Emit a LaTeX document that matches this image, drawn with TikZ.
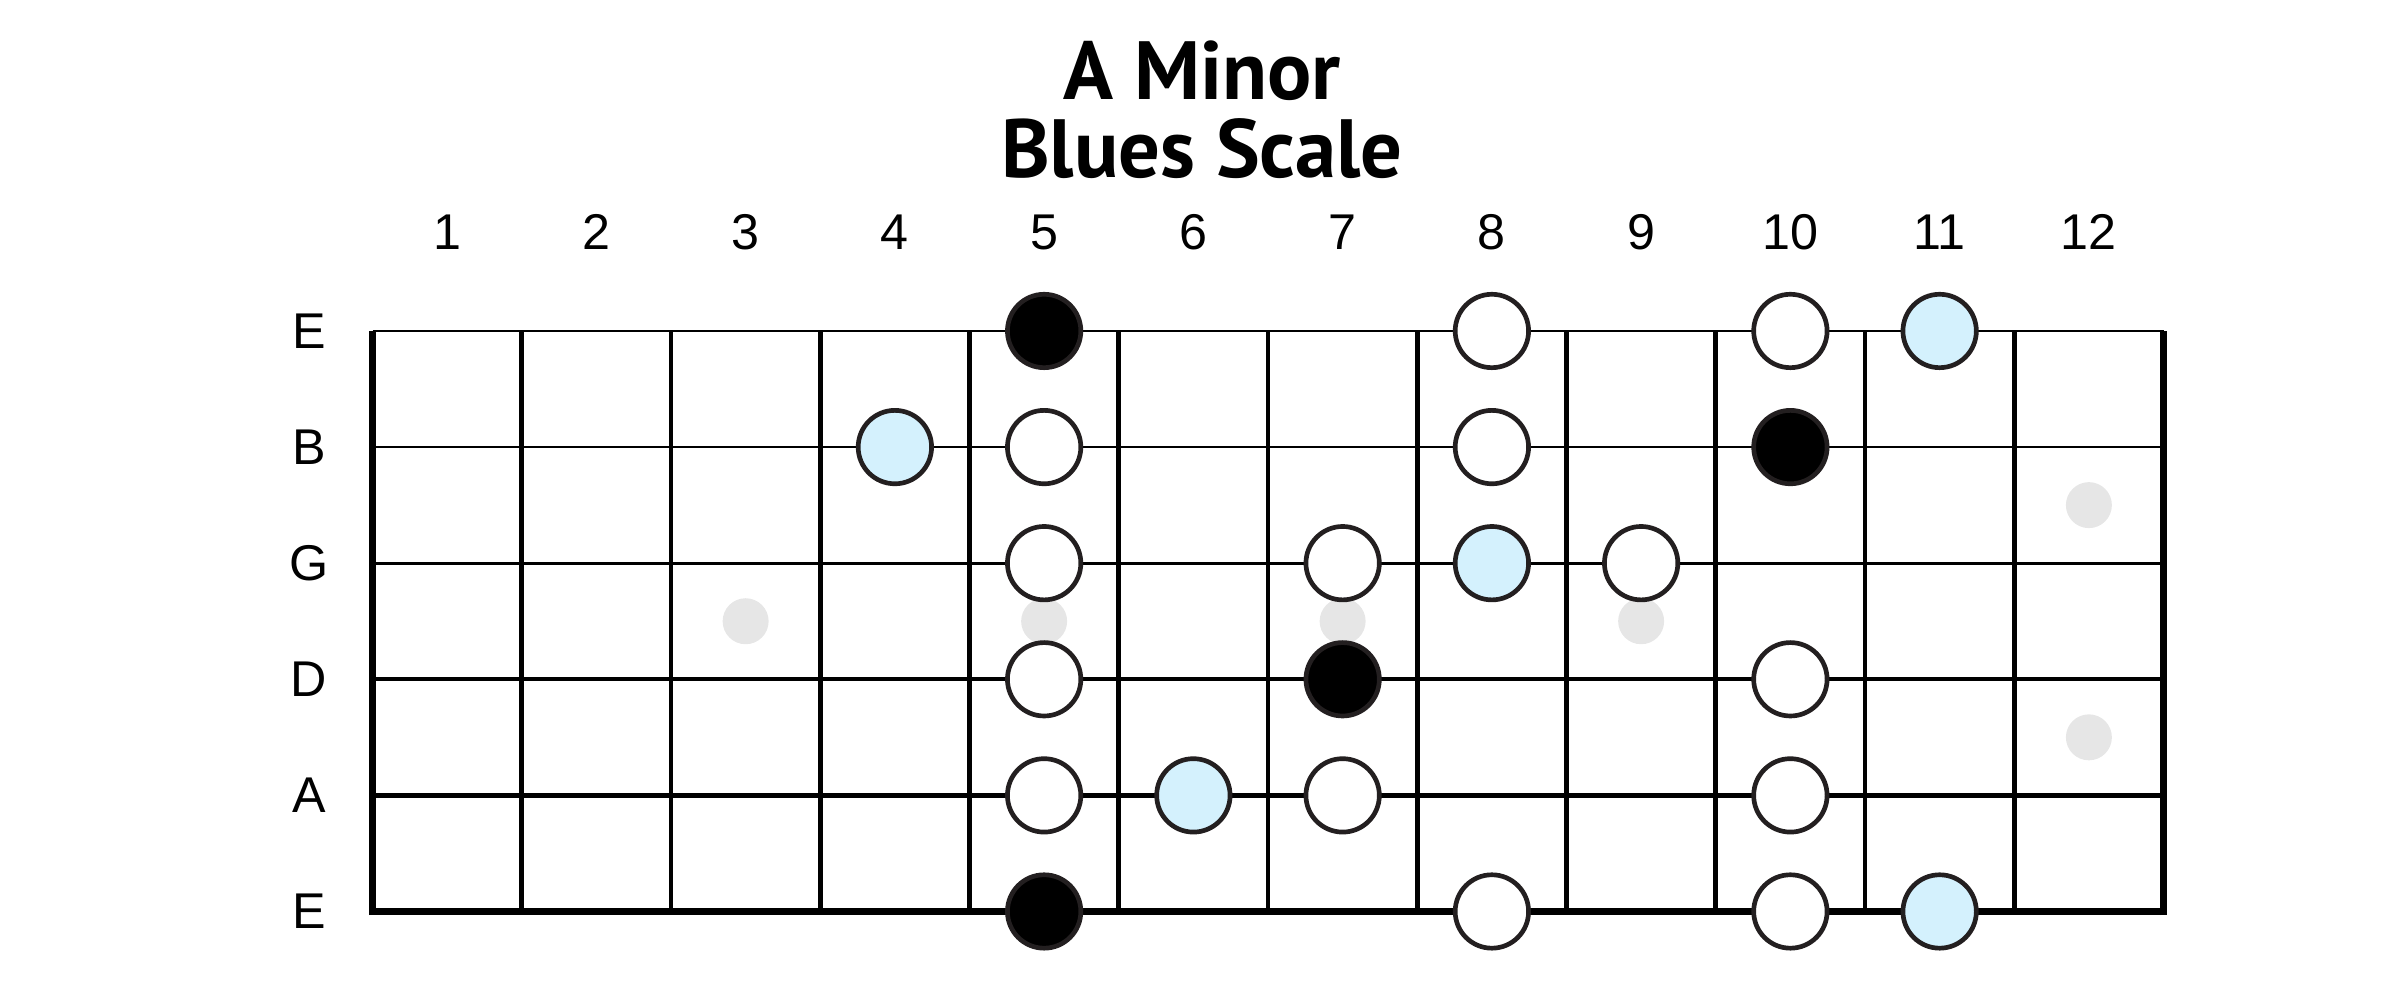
\documentclass[tikz,border=0pt]{standalone}
\usepackage{fontspec}
\setmainfont{Liberation Sans}
\newfontfamily\titlefont{PT Sans}
\usetikzlibrary{calc}

\definecolor{inkblack}{HTML}{231F20}
\definecolor{bluenote}{HTML}{D4F1FD}
\definecolor{inlaygrey}{HTML}{E6E6E6}

\tikzset{
	note/.style={draw=inkblack, line width=1.33pt},
	inlay/.style={fill=inlaygrey},
	fretline/.style={line width=1.3pt},
	endline/.style={line width=2pt},
	fretnum/.style={anchor=base, inner sep=0pt, font=\fontsize{14.3}{17}\selectfont},
	strname/.style={inner sep=0pt, font=\fontsize{14.3}{17}\selectfont},
	titletext/.style={anchor=base, inner sep=0pt, font=\titlefont\bfseries\fontsize{23.5}{26}\selectfont}
}

\begin{document}
\begin{tikzpicture}[x=1.4925cm, y=1.161cm]
		\useasboundingbox (-3.725cm,-0.885cm) rectangle (20.275cm,9.115cm);
		
		% Title
		\node[titletext] (title1) at (5.558,6.99) {A Minor};
		\node[titletext] (title2) at (5.558,6.318) {Blues Scale};
		
		% Fret numbers
		\foreach \f in {1,...,12} {
			\node[fretnum] (fret\f) at ({\f-0.5},5.698) {\f};
		}
		
		% String names (low E at the bottom)
		\foreach \s/\n in {0/E,1/A,2/D,3/G,4/B,5/E} {
			\node[strname] (str\s) at (-0.425,\s) {\n};
		}
		
		% Inlay dots
		\foreach \p in {(2.5,2.5),(4.5,2.5),(6.5,2.5),(8.5,2.5),(11.5,3.5),(11.5,1.5)} {
			\fill[inlay] \p circle (0.23cm);
		}
		
		% Strings, thicker towards the low E
		\foreach \s/\w in {0/2pt,1/1.4pt,2/1.14pt,3/0.95pt,4/0.77pt,5/0.57pt} {
			\draw[line width=\w] (0,\s) -- (12,\s);
		}
		
		% Frets
		\foreach \f in {1,...,11} {
			\draw[fretline] (\f,0) -- (\f,5);
		}
		\draw[endline] ([yshift=-1pt]0,0) -- (0,5);
		\draw[endline] ([yshift=-1pt]12,0) -- (12,5);
		
		% Scale notes: fret/string/fill
		\foreach \f/\s/\c in {
			5/5/black, 8/5/white, 10/5/white, 11/5/bluenote,
			4/4/bluenote, 5/4/white, 8/4/white, 10/4/black,
			5/3/white, 7/3/white, 8/3/bluenote, 9/3/white,
			5/2/white, 7/2/black, 10/2/white,
			5/1/white, 6/1/bluenote, 7/1/white, 10/1/white,
			5/0/black, 8/0/white, 10/0/white, 11/0/bluenote} {
			\draw[note, fill=\c] ({\f-0.5},\s) circle (0.367cm);
		}
		
	\end{tikzpicture}
\end{document}
